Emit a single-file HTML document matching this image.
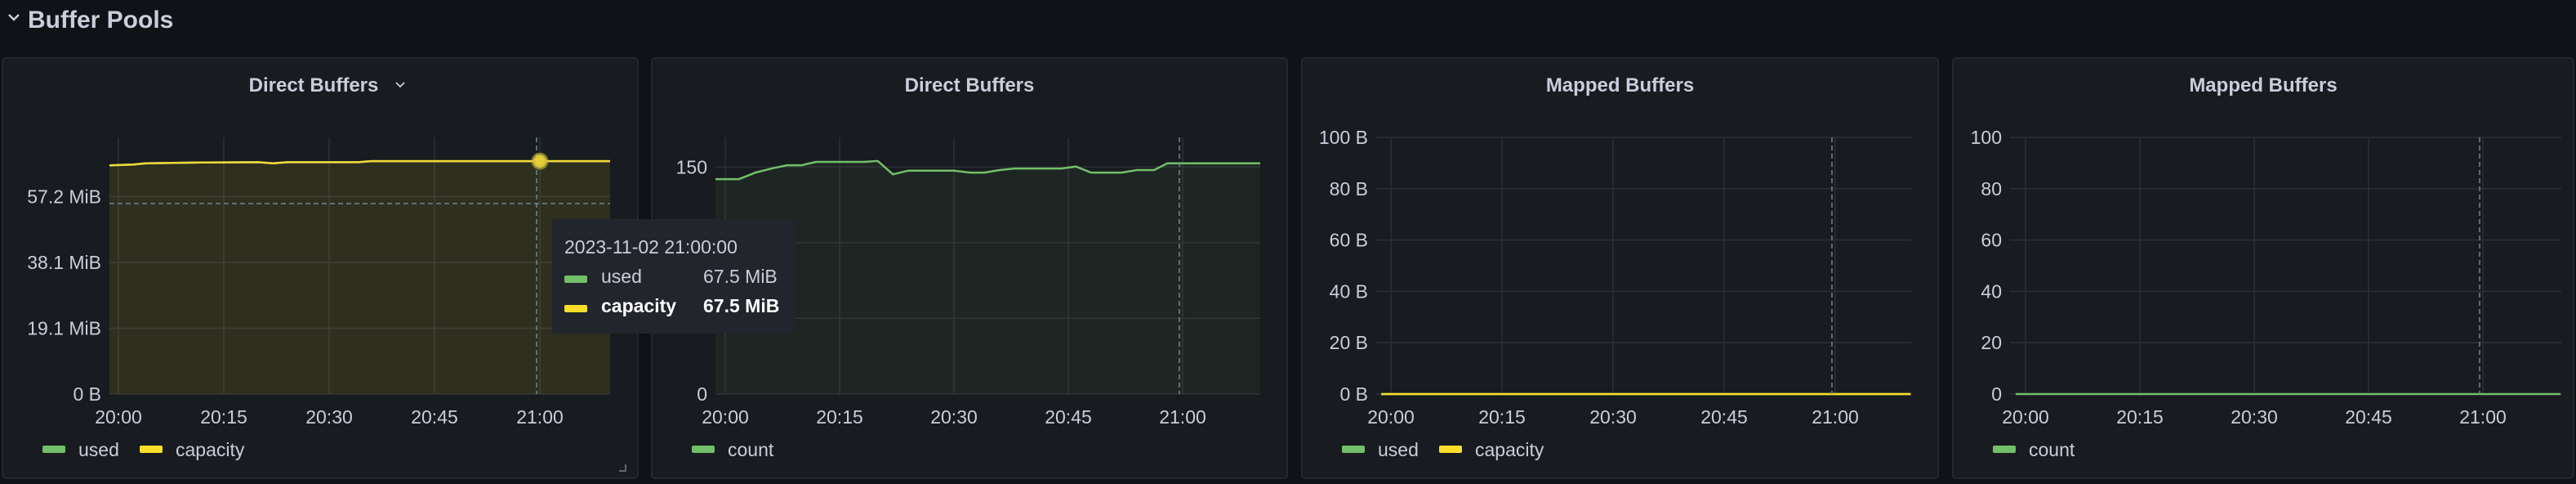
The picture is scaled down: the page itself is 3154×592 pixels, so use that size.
<!DOCTYPE html>
<html><head><meta charset="utf-8">
<style>
html,body{margin:0;padding:0;background:#111217;width:3154px;height:592px;overflow:hidden;font-family:"Liberation Sans",sans-serif;}
svg text{font-family:"Liberation Sans",sans-serif;}
</style></head>
<body>
<svg id="chart" width="3154" height="592" xmlns="http://www.w3.org/2000/svg">
<g>
<path d="M11 18 L17 24 L23 18" stroke="#ccccdc" stroke-width="2.5" fill="none"/>
<text x="34" y="34" fill="#ccccdc" font-size="30" font-weight="bold">Buffer Pools</text>
</g>
</svg>
<script>
// ---- data ----
const directMemMinutes = [-1.3, 2.1, 3.9, 11.6, 19.9, 22, 24.1, 34.2, 35.9, 70.2];
const directMemCapacity = [66.3, 66.5, 66.9, 67.1, 67.2, 66.9, 67.2, 67.2, 67.5, 67.5];
const directMemUsed = [66.3, 66.5, 66.9, 67.1, 67.2, 66.9, 67.2, 67.2, 67.5, 67.5];
const directMemTicks = [0, 19.07, 38.15, 57.22];
const directMemTickLabels = ["0 B", "19.1 MiB", "38.1 MiB", "57.2 MiB"];

const directCountMinutes = [-1.3, 1.8, 4, 6.2, 8.1, 10, 11.9, 14.1, 18.2, 20, 22, 24, 30, 32.1, 34, 36, 37.9, 44.1, 46, 48, 52, 54, 56.25, 58, 70.2];
const directCountValues = [142, 142, 146.4, 149.2, 151.2, 151.2, 153.4, 153.4, 153.4, 154, 145.2, 147.6, 147.6, 146.3, 146.3, 148, 149, 149, 150.3, 146.3, 146.3, 148, 148, 152.4, 152.4];
const directCountTicks = [0, 50, 100, 150];
const directCountTickLabels = ["0", "", "", "150"];

const mappedMinutes = [-1.3, 70.2];
const mappedCapacity = [0, 0];
const mappedUsed = [0, 0];
const mappedCount = [0, 0];
const mappedTicks = [0, 20, 40, 60, 80, 100];
const mappedMemTickLabels = ["0 B", "20 B", "40 B", "60 B", "80 B", "100 B"];
const mappedCountTickLabels = ["0", "20", "40", "60", "80", "100"];

const timeTicks = [0, 15, 30, 45, 60];
const timeTickLabels = ["20:00", "20:15", "20:30", "20:45", "21:00"];
const hoverMinute = 60;

const NS = "http://www.w3.org/2000/svg";
const svg = document.getElementById("chart");
function mk(tag, attrs, parent) {
  const e = document.createElementNS(NS, tag);
  for (const k in attrs) e.setAttribute(k, attrs[k]);
  (parent || svg).appendChild(e);
  return e;
}

function panel(cfg) {
  const g = mk("g", {});
  
  
  const bg = mk("rect", {x: cfg.px, y: 71, width: cfg.pw, height: 514, rx: 4, fill: "#181b1f", stroke: "#24272d", "stroke-width": 2}, g);
  
  
  const t = mk("text", {x: cfg.px + cfg.pw / 2 - (cfg.chev ? 8 : 0), y: 112, fill: "#ccccdc", "font-size": 24, "font-weight": "bold", "text-anchor": "middle"}, g);
  t.textContent = cfg.title;
  
  
  if (cfg.chev) {
    const cx = cfg.px + cfg.pw / 2 + 98;
    const c = mk("path", {d: `M${cx - 5} 101 L${cx} 106 L${cx + 5} 101`, stroke: "#ccccdc", "stroke-width": 1.8, fill: "none"}, g);
    
    
  }
  const L = cfg.left, R = cfg.right, T = 168, B = 482;
  const xs = m => cfg.x0 + (m / 15) * cfg.xstep;
  const ys = v => B - (v / cfg.ymax) * (B - T);
  cfg.yticks.forEach((v, i) => {
    const ln = mk("line", {x1: L, x2: R, y1: ys(v), y2: ys(v), stroke: "#2c2f35", "stroke-width": 1.5}, g);
    
    
    if (cfg.ylabels[i]) {
      const tx = mk("text", {x: L - 10, y: ys(v) + 8, fill: "#ccccdc", "font-size": 23, "text-anchor": "end"}, g);
      tx.textContent = cfg.ylabels[i];
      
      
    }
  });
  timeTicks.forEach((m, i) => {
    const ln = mk("line", {x1: xs(m), x2: xs(m), y1: T, y2: B, stroke: "#2c2f35", "stroke-width": 1.5}, g);
    
    
    const tx = mk("text", {x: xs(m), y: 518, fill: "#ccccdc", "font-size": 23, "text-anchor": "middle"}, g);
    tx.textContent = timeTickLabels[i];
    
    
  });
  cfg.series.forEach(s => {
    const pts = s.minutes.map((m, i) => [Math.max(L, Math.min(R, xs(m))), ys(s.values[i])]);
    const d = pts.map((p, i) => (i ? "L" : "M") + p[0].toFixed(1) + " " + p[1].toFixed(1)).join(" ");
    if (s.fill) {
      const a = mk("path", {d: d + ` L${pts[pts.length - 1][0]} ${B} L${pts[0][0]} ${B} Z`, fill: s.fill}, g);
      
      
    }
    const p = mk("path", {d: d, stroke: s.color, "stroke-width": 2.5, fill: "none"}, g);
    
    
  });
  const hx = xs(hoverMinute) - 4;
  const ch = mk("line", {x1: hx, x2: hx, y1: T, y2: B, stroke: "#6e8899", "stroke-width": 1.5, "stroke-dasharray": "6 4"}, g);
  
  
  let lx = cfg.px + 49;
  cfg.legend.forEach(l => {
    const sw = mk("rect", {x: lx, y: 545, width: 28, height: 9, rx: 2, fill: l.color}, g);
    
    
    const tx = mk("text", {x: lx + 44, y: 558, fill: "#ccccdc", "font-size": 23}, g);
    tx.textContent = l.label;
    
    
    lx += 44 + l.label.length * 12 + 27;
  });
  return {xs, ys, g};
}

const p1 = panel({name: "direct-buffers-memory-panel", title: "Direct Buffers", chev: true, px: 3, pw: 778, left: 134, right: 747, x0: 145, xstep: 129, ymax: 74.4,
  yticks: directMemTicks, ylabels: directMemTickLabels,
  series: [{name: "used", minutes: directMemMinutes, values: directMemUsed, color: "#73bf69"},
           {name: "capacity", minutes: directMemMinutes, values: directMemCapacity, color: "#f2d83a", fill: "rgba(250,222,42,0.1)"}],
  legend: [{label: "used", color: "#73bf69"}, {label: "capacity", color: "#fade2a"}]});
panel({name: "direct-buffers-count-panel", title: "Direct Buffers", px: 798, pw: 778, left: 876, right: 1543, x0: 888, xstep: 140, ymax: 169.6,
  yticks: directCountTicks, ylabels: directCountTickLabels,
  series: [{name: "count", minutes: directCountMinutes, values: directCountValues, color: "#73bf69", fill: "rgba(115,191,105,0.07)"}],
  legend: [{label: "count", color: "#73bf69"}]});
panel({name: "mapped-buffers-memory-panel", title: "Mapped Buffers", px: 1594, pw: 779, left: 1685, right: 2340, x0: 1703, xstep: 136, ymax: 100,
  yticks: mappedTicks, ylabels: mappedMemTickLabels,
  series: [{name: "used", minutes: mappedMinutes, values: mappedUsed, color: "#73bf69"},
           {name: "capacity", minutes: mappedMinutes, values: mappedCapacity, color: "#fade2a"}],
  legend: [{label: "used", color: "#73bf69"}, {label: "capacity", color: "#fade2a"}]});
panel({name: "mapped-buffers-count-panel", title: "Mapped Buffers", px: 2391, pw: 760, left: 2461, right: 3136, x0: 2480, xstep: 140, ymax: 100,
  yticks: mappedTicks, ylabels: mappedCountTickLabels,
  series: [{name: "count", minutes: mappedMinutes, values: mappedCount, color: "#73bf69"}],
  legend: [{label: "count", color: "#73bf69"}]});

const hv = directMemCapacity[directMemCapacity.length - 1];
const hl = mk("line", {x1: 134, x2: 747, y1: 249, y2: 249, stroke: "#6e8899", "stroke-width": 1.5, "stroke-dasharray": "6 4"});


const dot = mk("circle", {cx: p1.xs(hoverMinute), cy: p1.ys(hv), r: 8, fill: "#e6cc38", stroke: "rgba(200,190,60,0.6)", "stroke-width": 5});


const rz = mk("path", {d: "M758 576 L766 576 L766 568", stroke: "#666", "stroke-width": 2, fill: "none"});



const tg = mk("g", {});


const tb = mk("rect", {x: 676, y: 268, width: 298, height: 140, rx: 4, fill: "#22252b"}, tg);


const td = mk("text", {x: 691, y: 310, fill: "#ccccdc", "font-size": 23}, tg);
td.textContent = "2023-11-02 21:00:00";


[["used", "#73bf69", "67.5 MiB", 346, false], ["capacity", "#fade2a", "67.5 MiB", 382, true]].forEach(r => {
  const s = mk("rect", {x: 691, y: r[3] - 9, width: 28, height: 9, rx: 2, fill: r[1]}, tg);
  
  
  const a = mk("text", {x: 736, y: r[3], fill: r[4] ? "#ffffff" : "#ccccdc", "font-size": 23, "font-weight": r[4] ? "bold" : "normal"}, tg);
  a.textContent = r[0];
  
  
  const b = mk("text", {x: 861, y: r[3], fill: r[4] ? "#ffffff" : "#ccccdc", "font-size": 23, "font-weight": r[4] ? "bold" : "normal"}, tg);
  b.textContent = r[2];
  
  
});
</script>
</body></html>
